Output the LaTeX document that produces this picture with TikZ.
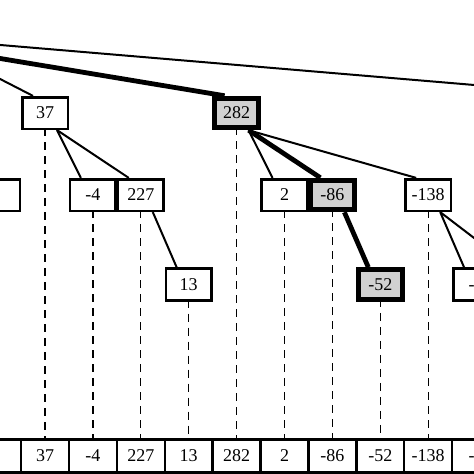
\documentclass[tikz,border=0pt]{standalone}
\usepackage{fontspec}
\setmainfont{Liberation Serif}
\usepackage{tikz}
\usetikzlibrary{positioning}

\begin{document}
\begin{tikzpicture}[x=1pt, y=-1pt,
        cell/.style={rectangle, draw=black, fill=white, line width=2.6pt, minimum width=45.6pt, minimum height=31.6pt, inner sep=0pt, font=\fontsize{18}{21}\selectfont},
        hot/.style={cell, fill=black!18, line width=5pt, minimum width=43.5pt, minimum height=29.5pt},
        slot/.style={rectangle, draw=black, fill=white, line width=2.4pt, minimum width=47.9pt, minimum height=33pt, inner sep=0pt, font=\fontsize{18}{21}\selectfont},
        link/.style={line width=2pt},
        hotlink/.style={line width=4.8pt},
        guide/.style={line width=1.3pt, dash pattern=on 8pt off 6pt}
    ]
    \useasboundingbox (0,0) rectangle (474,474);
    \clip (0,0) rectangle (474,474);

    % Nivel 1
    \node[cell] (n37) at (45,113) {37};
    \node[hot] (n282) at (236.6,113) {282};

    % Nivel 2
    \node[cell] (nl2) at (-2.9,195) {};
    \node[cell] (nm4) at (92.9,195) {-4};
    \node[cell] (n227) at (140.8,195) {227};
    \node[cell] (n2) at (284.5,195) {2};
    \node[hot] (nm86) at (332.4,195) {-86};
    \node[cell] (nm138) at (428.2,195) {-138};

    % Nivel 3
    \node[cell] (n13) at (188.7,284.5) {13};
    \node[hot] (nm52) at (380.3,284.5) {-52};
    \node[cell] (nr3) at (476.1,284.5) {-7};

    % Arreglo
    \node[slot] (al) at (-2.9,456) {};
    \node[slot] (a37) at (45,456) {37};
    \node[slot] (am4) at (92.9,456) {-4};
    \node[slot] (a227) at (140.8,456) {227};
    \node[slot] (a13) at (188.7,456) {13};
    \node[slot] (a282) at (236.6,456) {282};
    \node[slot] (a2) at (284.5,456) {2};
    \node[slot] (am86) at (332.4,456) {-86};
    \node[slot] (am52) at (380.3,456) {-52};
    \node[slot] (am138) at (428.2,456) {-138};
    \node[slot] (ar) at (476.1,456) {-7};

    % Extremos fuera del recorte
    \coordinate (tl) at (-60,39.9);
    \coordinate (tr) at (600,95.6);
    \coordinate (src282) at (-60,48.5);
    \coordinate (src37) at (-40,58.4);
    \coordinate (r3b) at (514,268.5);

    % Aristas
    \draw[link] (tl) -- (tr);
    \draw[hotlink] (src282) -- ([xshift=-12pt]n282.north);
    \draw[link] (src37) -- ([xshift=-12pt]n37.north);
    \draw[link] ([xshift=12pt]n37.south) -- ([xshift=-12pt]nm4.north);
    \draw[link] ([xshift=12pt]n37.south) -- ([xshift=-12pt]n227.north);
    \draw[link] ([xshift=12pt]n227.south) -- ([xshift=-12pt]n13.north);
    \draw[link] ([xshift=12pt]n282.south) -- ([xshift=-12pt]n2.north);
    \draw[link] ([xshift=12pt]n282.south) -- ([xshift=-12pt]nm138.north);
    \draw[hotlink] ([xshift=12pt]n282.south) -- ([xshift=-12pt]nm86.north);
    \draw[hotlink] ([xshift=12pt]nm86.south) -- ([xshift=-12pt]nm52.north);
    \draw[link] ([xshift=12pt]nm138.south) -- ([xshift=-12pt]nr3.north);
    \draw[link] ([xshift=12pt]nm138.south) -- (r3b);

    % Guias hacia el arreglo
    \draw[guide] ([yshift=2pt]n37.south) -- (a37.north);
    \draw[guide] ([yshift=2pt]nm4.south) -- (am4.north);
    \draw[guide] ([yshift=2pt]n227.south) -- (a227.north);
    \draw[guide] ([yshift=2pt]n13.south) -- (a13.north);
    \draw[guide] ([yshift=3pt]n282.south) -- (a282.north);
    \draw[guide] ([yshift=2pt]n2.south) -- (a2.north);
    \draw[guide] ([yshift=3pt]nm86.south) -- (am86.north);
    \draw[guide] ([yshift=3pt]nm52.south) -- (am52.north);
    \draw[guide] ([yshift=2pt]nm138.south) -- (am138.north);
\end{tikzpicture}
\end{document}
